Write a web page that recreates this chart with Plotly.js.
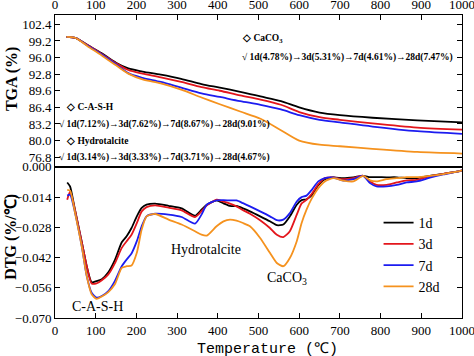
<!DOCTYPE html>
<html><head><meta charset="utf-8">
<script src="https://cdn.plot.ly/plotly-3.0.1.min.js"></script>
<style>html,body{margin:0;padding:0;background:#fff}#c{width:474px;height:356px}</style>
</head><body><div id="c"></div>
<script>
// ---- TGA data ----
const tgaTemp = [28, 50, 80, 115, 150, 180, 215, 260, 310, 360, 405, 455, 505, 555, 600, 650, 700, 780, 890, 1000];
const tga1d  = [100.0, 99.8, 98.4, 96.8, 95.0, 93.9, 93.3, 92.7, 91.9, 90.9, 90.2, 89.4, 88.5, 87.6, 86.4, 85.4, 84.9, 84.4, 83.9, 83.5];
const tga3d  = [100.0, 99.8, 98.4, 96.7, 94.9, 93.6, 92.9, 92.2, 91.3, 90.3, 89.6, 88.7, 87.9, 86.9, 85.5, 84.5, 84.0, 83.3, 82.5, 82.1];
const tga7d  = [100.0, 99.8, 98.3, 96.6, 94.7, 93.0, 92.1, 91.3, 90.2, 89.1, 88.4, 87.6, 86.9, 86.0, 84.9, 84.0, 83.5, 82.7, 81.8, 81.3];
const tga28d = [100.0, 99.8, 98.2, 96.4, 94.5, 92.9, 91.8, 91.0, 89.8, 88.3, 87.0, 85.6, 84.2, 82.0, 80.0, 79.2, 78.9, 78.4, 77.8, 77.5];

// ---- DTG data ----
const dtgTemp = [30, 37, 49, 66, 78, 90, 102, 115, 131, 147, 164, 176, 188, 201, 213, 225, 246, 279, 311, 344, 360, 373, 397, 414, 430, 446, 462, 479, 504, 528, 545, 561, 577, 594, 606, 618, 631, 647, 663, 684, 708, 733, 757, 774, 790, 815, 840, 864, 889, 921, 954, 991, 1000];
const dtg1d = [-0.0072, -0.009, -0.0198, -0.035, -0.046, -0.0534, -0.0529, -0.052, -0.0488, -0.0432, -0.0349, -0.0321, -0.0283, -0.0229, -0.019, -0.0175, -0.017, -0.018, -0.0192, -0.0226, -0.0198, -0.0175, -0.0155, -0.0169, -0.0181, -0.0181, -0.0192, -0.0206, -0.0229, -0.0252, -0.027, -0.0267, -0.0229, -0.0175, -0.0154, -0.015, -0.0131, -0.0084, -0.0057, -0.0049, -0.0052, -0.0048, -0.0041, -0.0047, -0.0047, -0.0048, -0.0048, -0.0052, -0.0052, -0.0041, -0.0032, -0.0021, -0.0016];
const dtg3d = [-0.0152, -0.0115, -0.0198, -0.035, -0.046, -0.054, -0.054, -0.0525, -0.0498, -0.0447, -0.0375, -0.0344, -0.0314, -0.026, -0.0206, -0.0186, -0.0178, -0.0189, -0.0201, -0.0232, -0.0205, -0.0178, -0.0152, -0.0161, -0.017, -0.0183, -0.02, -0.0217, -0.0247, -0.0283, -0.0314, -0.0325, -0.0298, -0.0221, -0.0169, -0.0152, -0.0124, -0.008, -0.0052, -0.0049, -0.0057, -0.0052, -0.0041, -0.0067, -0.0083, -0.0083, -0.0072, -0.0062, -0.006, -0.0043, -0.0032, -0.0021, -0.0016];
const dtg7d = [-0.0133, -0.0129, -0.021, -0.037, -0.0506, -0.0583, -0.0606, -0.0598, -0.0575, -0.0529, -0.046, -0.0429, -0.0401, -0.0344, -0.0275, -0.0229, -0.0217, -0.0221, -0.0232, -0.0263, -0.0221, -0.0175, -0.0155, -0.0154, -0.0155, -0.0155, -0.0168, -0.0183, -0.0206, -0.0229, -0.0247, -0.0244, -0.0214, -0.016, -0.014, -0.0133, -0.0106, -0.0067, -0.0052, -0.0049, -0.0063, -0.0057, -0.0041, -0.0075, -0.009, -0.009, -0.0083, -0.0072, -0.0067, -0.005, -0.0035, -0.0021, -0.0016];
const dtg28d = [-0.0106, -0.011, -0.021, -0.037, -0.0506, -0.059, -0.0611, -0.060, -0.058, -0.0544, -0.0468, -0.046, -0.0457, -0.0398, -0.029, -0.0229, -0.0218, -0.0244, -0.0267, -0.0298, -0.0314, -0.0318, -0.0275, -0.0252, -0.0244, -0.0249, -0.026, -0.0275, -0.0329, -0.0398, -0.0445, -0.046, -0.0422, -0.0344, -0.026, -0.0198, -0.0146, -0.0098, -0.0067, -0.0052, -0.0063, -0.0067, -0.0041, -0.0062, -0.0067, -0.0057, -0.0052, -0.0047, -0.0047, -0.0041, -0.0033, -0.0021, -0.0016];

const seriesNames = ['1d', '3d', '7d', '28d'];
const colors = ['#000000', '#e3161c', '#1c1cf0', '#f5921e'];
const tgaSets = [tga1d, tga3d, tga7d, tga28d];
const dtgSets = [dtg1d, dtg3d, dtg7d, dtg28d];

const topTicks = [76.8, 80.0, 83.2, 86.4, 89.6, 92.8, 96.0, 99.2, 102.4];
const botTicks = [-0.070, -0.056, -0.042, -0.028, -0.014, 0.000];
const xTicks = [0, 100, 200, 300, 400, 500, 600, 700, 800, 900, 1000];

const traces = [];
seriesNames.forEach((n, i) => {
  traces.push({x: tgaTemp, y: tgaSets[i], xaxis: 'x2', yaxis: 'y2', type: 'scatter', mode: 'lines',
    line: {color: colors[i], width: 1.8, shape: 'spline', smoothing: 0.8}, showlegend: false, hoverinfo: 'skip'});
});
seriesNames.forEach((n, i) => {
  traces.push({x: dtgTemp, y: dtgSets[i], xaxis: 'x', yaxis: 'y', type: 'scatter', mode: 'lines', name: n,
    legendgroup: n, line: {color: colors[i], width: 1.8, shape: 'spline', smoothing: 0.6}});
});

const tickFont = {family: 'Liberation Serif, Times New Roman, serif', size: 13, color: '#000'};
const axBase = {showgrid: false, zeroline: false, showline: true, linecolor: '#000', linewidth: 1,
  ticks: 'inside', ticklen: 5, tickcolor: '#000', tickfont: tickFont, ticklabeloverflow: 'allow'};

const ann = (text, x, y, opts) => Object.assign({text: text, x: x, y: y, xref: 'paper', yref: 'paper',
  showarrow: false, xanchor: 'left', yanchor: 'middle',
  font: {family: 'Liberation Serif, Times New Roman, serif', size: 9.5, color: '#000'}}, opts || {});

const layout = {
  width: 474, height: 356,
  margin: {l: 55, r: 12, t: 15, b: 38},
  paper_bgcolor: '#fff', plot_bgcolor: '#fff',
  showlegend: true,
  legend: {x: 0.795, y: 0.366, xanchor: 'left', yanchor: 'top', bgcolor: 'rgba(0,0,0,0)',
    font: {family: 'Liberation Serif, Times New Roman, serif', size: 14, color: '#000'},
    tracegroupgap: 0, itemwidth: 30},
  xaxis: Object.assign({}, axBase, {domain: [0, 1], range: [0, 1000], anchor: 'y', tickvals: xTicks, mirror: true}),
  yaxis: Object.assign({}, axBase, {domain: [0, 0.5], range: [-0.070, 0.0002], anchor: 'x', tickvals: botTicks,
    tickformat: '.3f', mirror: 'ticks'}),
  xaxis2: Object.assign({}, axBase, {domain: [0, 1], range: [0, 1000], anchor: 'y2', side: 'top', tickvals: xTicks, mirror: true}),
  yaxis2: Object.assign({}, axBase, {domain: [0.5, 1], range: [75.0, 104.2], anchor: 'x2', tickvals: topTicks,
    tickformat: '.1f', mirror: 'ticks'}),
  annotations: [
    ann('<b>TGA (%)</b>', -0.107, 0.79, {xanchor: 'center', textangle: -90, font: {family: 'Liberation Serif, Times New Roman, serif', size: 16, color: '#000'}}),
    ann('<b>DTG (%/℃)</b>', -0.107, 0.27, {xanchor: 'center', textangle: -90, font: {family: 'Liberation Serif, Times New Roman, serif', size: 16, color: '#000'}}),
    ann('Temperature (℃)', 0.523, -0.105, {xanchor: 'center', font: {family: 'Liberation Mono, DejaVu Sans Mono, monospace', size: 15, color: '#000'}}),
    ann('<b>◇ CaCO<sub>3</sub></b>', 0.455, 0.924),
    ann('<b>√ 1d(4.78%)→3d(5.31%)→7d(4.61%)→28d(7.47%)</b>', 0.455, 0.861),
    ann('<b>◇ C-A-S-H</b>', 0.022, 0.696),
    ann('<b>√ 1d(7.12%)→3d(7.62%)→7d(8.67%)→28d(9.01%)</b>', 0.004, 0.640),
    ann('<b>◇ Hydrotalcite</b>', 0.022, 0.584),
    ann('<b>√ 1d(3.14%)→3d(3.33%)→7d(3.71%)→28d(4.67%)</b>', 0.004, 0.531),
    ann('C-A-S-H', 0.104, 0.037, {xanchor: 'center', font: {family: 'Liberation Serif, Times New Roman, serif', size: 14, color: '#000'}}),
    ann('Hydrotalcite', 0.372, 0.227, {xanchor: 'center', font: {family: 'Liberation Serif, Times New Roman, serif', size: 14, color: '#000'}}),
    ann('CaCO<sub>3</sub>', 0.570, 0.129, {xanchor: 'center', font: {family: 'Liberation Serif, Times New Roman, serif', size: 14, color: '#000'}})
  ]
};

Plotly.newPlot('c', traces, layout, {staticPlot: true, displayModeBar: false});
</script>
</body></html>
